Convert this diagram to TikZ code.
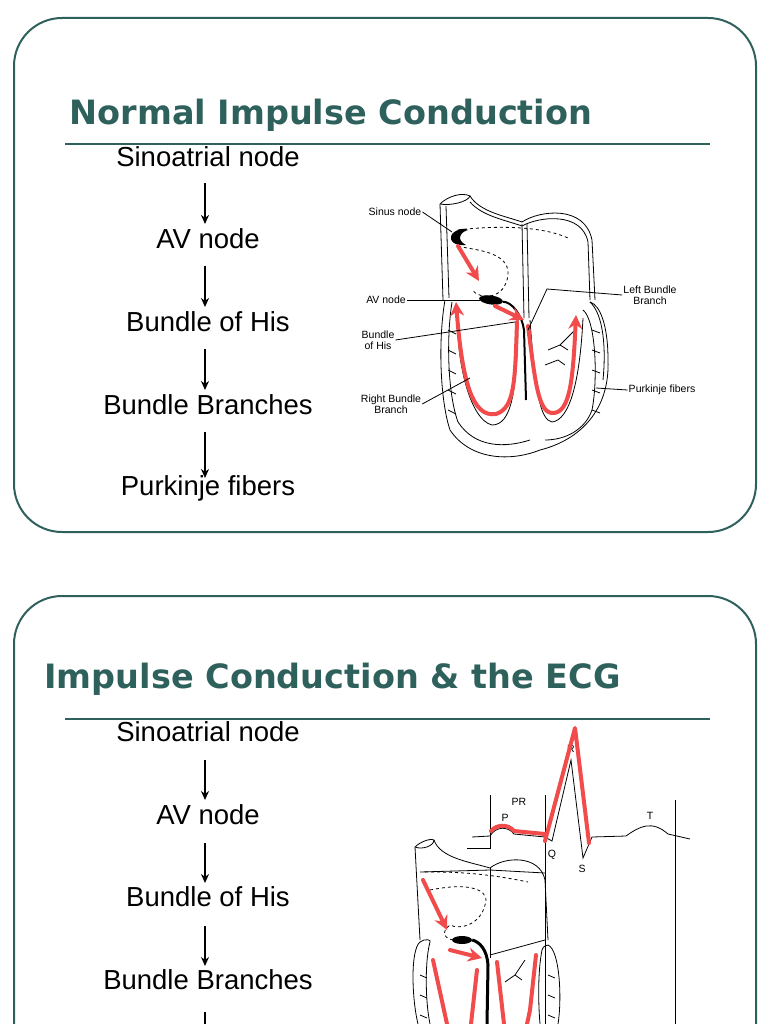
\documentclass[tikz,border=0pt]{standalone}
\usepackage{fontspec}
\setmainfont{Liberation Sans}
\newfontfamily\titlefont{DejaVu Sans}
\usetikzlibrary{arrows.meta,shapes.geometric}
\definecolor{teal1}{HTML}{2F615C}
\definecolor{redline}{HTML}{F24B4B}
\begin{document}
\begin{tikzpicture}[x=1pt,y=-1pt,
  frame/.style={draw=teal1,line width=2pt,rounded corners=48pt},
  ttl/.style={anchor=west,text=teal1,font=\titlefont\bfseries\fontsize{33.5}{36}\selectfont},
  item/.style={font=\fontsize{27.5}{30}\selectfont,inner sep=0pt},
  flow/.style={-{Stealth[length=9pt,width=8pt]},line width=1.8pt},
  lbl/.style={font=\fontsize{10.5}{11}\selectfont,align=center,inner sep=1pt},
  thin/.style={line width=0.8pt},
  hl/.style={draw=redline,line width=4pt,line cap=round,line join=round},
  hla/.style={hl,-{Stealth[length=14pt,width=14pt]}},
  dsh/.style={thin,dashed}]
\useasboundingbox (0,0) rectangle (768,1024);
\clip (0,0) rectangle (768,1024);
\draw[frame] (14,18) rectangle (756,532);
\draw[frame] (14,596) rectangle (756,1100);
\node[ttl] (t1) at (66,115) {Normal Impulse Conduction};
\draw[teal1,line width=1.5pt] (65,144) -- (710,144);
\node[ttl] (t2) at (41,679) {Impulse Conduction \& the ECG};
\draw[teal1,line width=1.5pt] (65,719) -- (710,719);
% list 1
\node[item] (a1) at (208,157) {Sinoatrial node};
\node[item] (a2) at (208,239) {AV node};
\node[item] (a3) at (208,322) {Bundle of His};
\node[item] (a4) at (208,405) {Bundle Branches};
\node[item] (a5) at (208,488) {Purkinje fibers};
\coordinate (p1s) at (205,183); \coordinate (p1e) at (205,224);
\coordinate (p2s) at (205,266); \coordinate (p2e) at (205,307);
\coordinate (p3s) at (205,349); \coordinate (p3e) at (205,390);
\coordinate (p4s) at (205,432); \coordinate (p4e) at (205,478);
\draw[flow] (p1s) -- (p1e);
\draw[flow] (p2s) -- (p2e);
\draw[flow] (p3s) -- (p3e);
\draw[flow] (p4s) -- (p4e);
% list 2
\node[item] (b1) at (208,732) {Sinoatrial node};
\node[item] (b2) at (208,815) {AV node};
\node[item] (b3) at (208,897) {Bundle of His};
\node[item] (b4) at (208,980) {Bundle Branches};
\coordinate (q1s) at (205,760); \coordinate (q1e) at (205,800);
\coordinate (q2s) at (205,843); \coordinate (q2e) at (205,883);
\coordinate (q3s) at (205,926); \coordinate (q3e) at (205,966);
\coordinate (q4s) at (205,1012); \coordinate (q4e) at (205,1040);
\draw[flow] (q1s) -- (q1e);
\draw[flow] (q2s) -- (q2e);
\draw[flow] (q3s) -- (q3e);
\draw[line width=1.8pt] (q4s) -- (q4e);
% ===== heart 1 =====
\begin{scope}[thin]
\draw (440,204) .. controls (448,196) and (462,192) .. (470,196) .. controls (468,202) and (450,206) .. (440,204);
\draw (440,204) -- (443,300);
\draw (446,206) -- (449,298);
\draw (470,196) .. controls (480,212) and (505,216) .. (522,222) .. controls (540,210) and (585,205) .. (592,240) -- (595,300);
\draw (470,202) .. controls (482,216) and (505,220) .. (522,226) .. controls (540,216) and (582,212) .. (588,242) -- (590,300);
\draw (522,224) -- (524,318);
\draw (527,224) -- (529,318);
\draw[dsh] (458,230) .. controls (490,226) and (540,225) .. (568,238);
\draw[dsh] (458,246) .. controls (470,250) and (510,250) .. (508,275) .. controls (505,300) and (480,300) .. (472,290);
\draw (445,300) .. controls (438,340) and (440,400) .. (450,430) .. controls (470,460) and (510,462) .. (540,450) .. controls (580,440) and (610,410) .. (608,360) .. controls (608,325) and (600,305) .. (590,302);
\draw (452,302) .. controls (446,340) and (448,395) .. (458,422) .. controls (475,448) and (505,448) .. (530,440);
\draw (590,302) .. controls (604,315) and (606,350) .. (603,380);
\draw (583,310) .. controls (596,320) and (598,380) .. (592,410) .. controls (585,430) and (565,440) .. (545,440);
\draw (458,308) .. controls (455,360) and (470,420) .. (492,425) .. controls (512,425) and (517,390) .. (518,320);
\draw (530,320) .. controls (535,390) and (540,420) .. (552,422) .. controls (570,420) and (580,380) .. (583,318);
\draw (548,350) -- (560,345) -- (575,330);
\draw (560,345) -- (568,350);
\draw (545,365) -- (558,360) -- (565,365);
\foreach \yy in {330,350,370,390,410} { \draw (448,\yy) -- (456,\yy+4); \draw (592,\yy) -- (600,\yy+3); }
\end{scope}
\fill (452,234) .. controls (458,228) and (466,228) .. (468,230) .. controls (460,232) and (456,240) .. (466,245) .. controls (456,246) and (448,242) .. (452,234) -- cycle;
\node[fill,ellipse,minimum width=24pt,minimum height=9pt,inner sep=0pt,rotate=-8] (av1) at (491,300) {};
\draw[line width=2pt] (av1.east) .. controls (512,302) and (522,315) .. (524,330) -- (526,400);
\draw[hla] (458,246) -- (479,281);
\draw[hla] (495,306) -- (524,320);
\draw[hla] (517,322) .. controls (515,380) and (515,408) .. (496,414) .. controls (472,418) and (462,380) .. (456,302);
\draw[hla] (528,326) .. controls (535,380) and (538,412) .. (552,413) .. controls (570,414) and (573,380) .. (576,315);
\node[lbl] (l1) at (395,212) {Sinus node};
\node[lbl] (l2) at (386,300) {AV node};
\node[lbl] (l3) at (378,340) {Bundle\\of His};
\node[lbl] (l4) at (391,404) {Right Bundle\\Branch};
\node[lbl] (l5) at (650,295) {Left Bundle\\Branch};
\node[lbl] (l6) at (662,390) {Purkinje fibers};
\draw[thin] (l1.east) -- (452,232);
\draw[thin] (l2.east) -- (480,300);
\draw[thin] (l3.east) -- (515,322);
\draw[thin] (l4.east) -- (470,378);
\draw[thin] (l5.west) -- (547,289) -- (528,330);
\draw[thin] (l6.west) -- (596,388);
% ===== ECG =====
\begin{scope}[thin]
\draw (490,795) -- (490,848) -- (467,848);
\draw (545,795) -- (545,1024);
\draw (675,800) -- (675,1024);
\draw (472,837) -- (490,836) .. controls (496,826) and (508,826) .. (514,834) -- (545,837) -- (552,841) -- (571,760) -- (583,858) -- (592,837) -- (626,836) .. controls (640,826) and (652,820) .. (668,834) -- (690,839);
\end{scope}
\node[lbl] (pr) at (519,802) {PR};
\node[lbl] (pp) at (505,818) {P};
\node[lbl] (qq) at (552,855) {Q};
\node[lbl] (rr) at (571,749) {R};
\node[lbl] (ss) at (582,869) {S};
\node[lbl] (tt) at (650,816) {T};
\draw[hl] (491,831) .. controls (497,824) and (508,824) .. (514,831) -- (545,834);
\draw[hl] (545,841) -- (575,728) -- (589,843);
% ===== heart 2 =====
\begin{scope}[thin]
\draw (415,847) .. controls (420,842) and (430,838) .. (434,840) .. controls (434,846) and (422,850) .. (415,847);
\draw (415,847) -- (420,940);
\draw (434,840) .. controls (440,858) and (470,862) .. (490,868) .. controls (505,856) and (540,855) .. (545,880) -- (548,940);
\draw (490,868) -- (490,958);
\draw (420,872) -- (490,870) -- (545,873);
\draw[dsh] (425,872) .. controls (450,872) and (480,872) .. (528,882);
\draw[dsh] (430,890) .. controls (480,880) and (490,895) .. (485,905) .. controls (480,925) and (460,930) .. (450,925) .. controls (440,932) and (445,940) .. (455,940);
\draw (490,955) -- (545,940);
\draw (420,942) .. controls (410,950) and (412,1000) .. (418,1024);
\draw (430,942) .. controls (425,960) and (425,1000) .. (430,1024);
\draw (420,942) .. controls (425,938) and (432,940) .. (430,942);
\draw (548,945) .. controls (560,950) and (562,1000) .. (558,1024);
\draw (542,950) .. controls (538,970) and (538,1000) .. (540,1024);
\draw (548,945) .. controls (544,946) and (542,948) .. (542,950);
\draw (505,982) -- (515,975) -- (525,960);
\draw (515,975) -- (522,980);
\foreach \yy in {975,995,1015} { \draw (420,\yy) -- (427,\yy+3); \draw (548,\yy) -- (555,\yy+3); }
\end{scope}
\node[fill,ellipse,minimum width=20pt,minimum height=8pt,inner sep=0pt] (av2) at (462,940) {};
\draw[line width=3pt] (av2.east) .. controls (480,942) and (487,950) .. (488,965) -- (487,1024);
\draw[hla] (423,880) -- (447,930);
\draw[hla] (450,950) -- (482,958);
\draw[hl] (433,960) -- (447,1024);
\draw[hl] (477,970) -- (471,1024);
\draw[hl] (497,962) -- (504,1024);
\draw[hl] (536,955) -- (530,1010) -- (527,1024);
\end{tikzpicture}
\end{document}
